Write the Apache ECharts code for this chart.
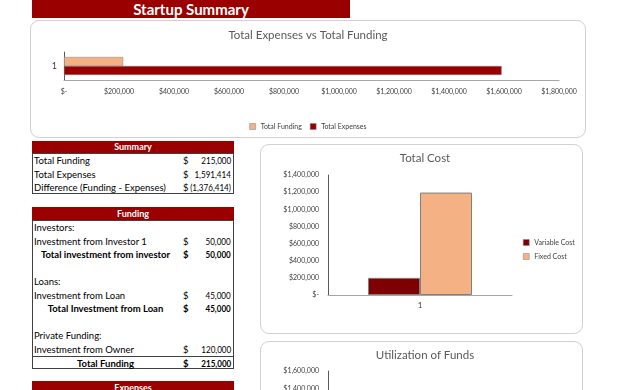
<!DOCTYPE html>
<html><head><meta charset="utf-8">
<script src="https://cdn.jsdelivr.net/npm/echarts@6/dist/echarts.min.js"></script>
<style>
html,body{margin:0;padding:0;width:640px;height:390px;overflow:hidden;background:#fff;font-family:Lato,"Open Sans",sans-serif;}
.abs{position:absolute;}
.hdr{background:#9b0000;color:#fff;font-weight:bold;text-align:center;}
.box{border:1px solid #d0d0d0;border-radius:9px;background:#fff;box-sizing:border-box;}
.tbl{border:1px solid #404040;box-sizing:border-box;font-size:9.5px;color:#000;}
.row{position:absolute;left:0;width:100%;height:13.5px;line-height:13.5px;}
.row .l{position:absolute;left:1px;}
.row .c{position:absolute;left:0;width:145px;text-align:center;}
.row .d{position:absolute;left:150px;}
.row .v{position:absolute;right:2px;display:inline-block;transform:scaleX(0.85);transform-origin:right center;}
.b{font-weight:bold;}
</style></head>
<body>
<div class="abs hdr" style="left:32px;top:0;width:318px;height:18px;line-height:18px;font-size:15px;">Startup Summary</div>

<div class="abs box" style="left:30px;top:20px;width:556px;height:118px;"></div>
<div id="c1" class="abs" style="left:30px;top:20px;width:556px;height:118px;"></div>

<div class="abs hdr" style="left:32px;top:141px;width:202px;height:12px;line-height:12px;font-size:9px;">Summary</div>
<div id="t1" class="abs tbl" style="left:32px;top:153px;width:202px;height:41px;"></div>

<div class="abs hdr" style="left:32px;top:207px;width:202px;height:13px;line-height:13px;font-size:9px;">Funding</div>
<div id="t2" class="abs tbl" style="left:32px;top:220px;width:202px;height:149px;"></div>

<div class="abs hdr" style="left:32px;top:381px;width:202px;height:13px;line-height:13px;font-size:9px;">Expenses</div>

<div class="abs box" style="left:260px;top:144px;width:323px;height:190px;"></div>
<div id="c2" class="abs" style="left:260px;top:144px;width:323px;height:190px;"></div>

<div class="abs box" style="left:260px;top:341px;width:323px;height:200px;"></div>
<div id="c3" class="abs" style="left:260px;top:341px;width:323px;height:200px;"></div>

<script>
// ---- data ----
const barCategories = ['1'];
const totalFunding = [215000];
const totalExpenses = [1591414];
const costCategories = ['1'];
const variableCost = [200000];
const fixedCost = [1195000];
const utilCategories = ['1'];
const utilValues = [];
const summaryLabels = ['Total Funding', 'Total Expenses', 'Difference (Funding - Expenses)'];
const summaryValues = ['215,000', '1,591,414', '(1,376,414)'];
const fundingLabels = ['Investors:', 'Investment from Investor 1', 'Total investment from investor', '', 'Loans:', 'Investment from Loan', 'Total Investment from Loan', '', 'Private Funding:', 'Investment from Owner', 'Total Funding'];
const fundingValues = ['', '50,000', '50,000', '', '', '45,000', '45,000', '', '', '120,000', '215,000'];
const fundingBold = [false, false, true, false, false, false, true, false, false, false, true];

// ---- tables ----
function buildRows(el, labels, values, bold) {
  let html = '';
  labels.forEach((lab, i) => {
    const isB = bold && bold[i];
    const top = i * 13.5;
    let border = (isB && i === labels.length - 1) ? 'border-top:1px solid #404040;' : '';
    html += '<div class="row' + (isB ? ' b' : '') + '" style="top:' + top + 'px;' + border + '">' +
      '<span class="' + (isB ? 'c' : 'l') + '">' + lab + '</span>' +
      (values[i] ? '<span class="d">$</span>' : '') +
      '<span class="v">' + values[i] + '</span></div>';
  });
  el.innerHTML = html;
}
buildRows(document.getElementById('t1'), summaryLabels, summaryValues, null);
buildRows(document.getElementById('t2'), fundingLabels, fundingValues, fundingBold);

// ---- charts ----
const FONT = 'Lato';
const money = v => v === 0 ? '$-' : '$' + v.toLocaleString('en-US');
const peach = '#f4b183', maroon = '#990000', dark = '#7f0000';
const titleStyle = {color: '#595959', fontSize: 11.5, fontWeight: 'normal', fontFamily: FONT};
const legendText = {fontSize: 7, color: '#404040', fontFamily: FONT};

const c1 = echarts.init(document.getElementById('c1'));
c1.setOption({
  animation: false,
  title: {text: 'Total Expenses vs Total Funding', left: 'center', top: 4, textStyle: titleStyle},
  grid: {left: 34, right: 27, top: 32, bottom: 58},
  legend: {data: ['Total Funding', 'Total Expenses'], left: 'center', top: 98, icon: 'rect', itemWidth: 6, itemHeight: 6, itemGap: 8,
    itemStyle: {borderColor: '#808080', borderWidth: 0.5}, textStyle: legendText},
  xAxis: {type: 'value', min: 0, max: 1800000, interval: 200000, splitLine: {show: false},
    axisLine: {show: true, lineStyle: {color: '#a6a6a6'}}, axisTick: {show: false},
    axisLabel: {formatter: money, fontSize: 7, color: '#404040', margin: 8, fontFamily: FONT}},
  yAxis: {type: 'category', data: barCategories, axisTick: {show: false},
    axisLine: {lineStyle: {color: '#595959'}},
    axisLabel: {fontSize: 9, color: '#404040', margin: 7, fontFamily: FONT}},
  series: [
    {name: 'Total Funding', type: 'bar', data: totalFunding, barWidth: 9, barGap: '0%',
      itemStyle: {color: peach, borderColor: '#808080', borderWidth: 0.5}},
    {name: 'Total Expenses', type: 'bar', data: totalExpenses, barWidth: 9, barGap: '0%',
      itemStyle: {color: maroon, borderColor: '#808080', borderWidth: 0.5}}
  ]
});

const c2 = echarts.init(document.getElementById('c2'));
c2.setOption({
  animation: false,
  title: {text: 'Total Cost', left: 160, textAlign: 'center', top: 3, textStyle: titleStyle},
  grid: {left: 68, right: 71, top: 31, bottom: 39},
  legend: {data: ['Variable Cost', 'Fixed Cost'], orient: 'vertical', left: 258, top: 90, icon: 'rect', itemWidth: 6, itemHeight: 6, itemGap: 7,
    itemStyle: {borderColor: '#808080', borderWidth: 0.5}, textStyle: legendText},
  xAxis: {type: 'category', data: costCategories, axisTick: {show: false},
    axisLine: {lineStyle: {color: '#a6a6a6'}},
    axisLabel: {fontSize: 8, color: '#404040', margin: 6, fontFamily: FONT}},
  yAxis: {type: 'value', min: 0, max: 1400000, interval: 200000, splitLine: {show: false},
    axisLine: {show: true, lineStyle: {color: '#595959'}}, axisTick: {show: false},
    axisLabel: {formatter: money, fontSize: 7, color: '#404040', margin: 9, fontFamily: FONT}},
  series: [
    {name: 'Variable Cost', type: 'bar', data: variableCost, barWidth: 52, barGap: '0%',
      itemStyle: {color: dark, borderColor: '#808080', borderWidth: 1}},
    {name: 'Fixed Cost', type: 'bar', data: fixedCost, barWidth: 52, barGap: '0%',
      itemStyle: {color: peach, borderColor: '#808080', borderWidth: 1}}
  ]
});

const c3 = echarts.init(document.getElementById('c3'));
c3.setOption({
  animation: false,
  title: {text: 'Utilization of Funds', left: 160, textAlign: 'center', top: 3, textStyle: titleStyle},
  grid: {left: 68, right: 71, top: 30, bottom: 26},
  xAxis: {type: 'category', data: utilCategories, axisTick: {show: false},
    axisLine: {lineStyle: {color: '#a6a6a6'}}, axisLabel: {fontSize: 8, color: '#404040'}},
  yAxis: {type: 'value', min: 0, max: 1600000, interval: 200000, splitLine: {show: false},
    axisLine: {show: true, lineStyle: {color: '#595959'}}, axisTick: {show: false},
    axisLabel: {formatter: money, fontSize: 7, color: '#404040', margin: 9, fontFamily: FONT}},
  series: [{name: 'Utilization', type: 'bar', data: utilValues}]
});
</script>
</body></html>
